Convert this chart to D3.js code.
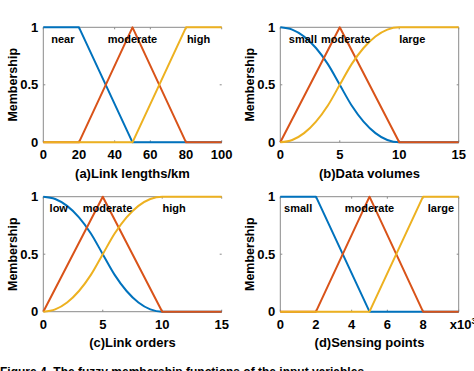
<!DOCTYPE html>
<html>
<head>
<meta charset="utf-8">
<script src="https://cdn.jsdelivr.net/npm/d3@7"></script>
<style>
  body { margin: 0; background: #fff; }
  svg { display: block; }
  text { font-family: "Liberation Sans", Arial, sans-serif; font-weight: bold; fill: #000; }
</style>
</head>
<body>
<svg id="chart" width="474" height="371"></svg>
<script>
// membership curves
// (a) link lengths, km
var aNearX = [0, 20, 50, 100], aNearY = [1, 1, 0, 0];
var aModX = [0, 20, 50, 80, 100], aModY = [0, 0, 1, 0, 0];
var aHighX = [0, 50, 80, 100], aHighY = [0, 0, 1, 1];

// (b) data volumes, (c) link orders - same shapes
var sX = [0, 1, 2, 3, 4, 5, 6, 7, 8, 9, 10, 11, 12, 13, 14, 15];
var sLowY = [1, 0.98, 0.92, 0.82, 0.68, 0.5, 0.32, 0.18, 0.08, 0.02, 0, 0, 0, 0, 0, 0];
var sHighY = [0, 0.02, 0.08, 0.18, 0.32, 0.5, 0.68, 0.82, 0.92, 0.98, 1, 1, 1, 1, 1, 1];
var sModX = [0, 5, 10, 15], sModY = [0, 1, 0, 0];

// (d) sensing points, x10^3
var dSmallX = [0, 2, 5, 10], dSmallY = [1, 1, 0, 0];
var dModX = [0, 2, 5, 8, 10], dModY = [0, 0, 1, 0, 0];
var dLargeX = [0, 5, 8, 10], dLargeY = [0, 0, 1, 1];

var yTicks = [0, 0.5, 1];
var yTickLabels = ["0", "0.5", "1"];

var colors = ["#0072BD", "#D95319", "#EDB120"];

var panels = [
    {col: 0, row: 0, xmax: 100, ticks: [0, 20, 40, 60, 80, 100], tickLabels: ["0", "20", "40", "60", "80", "100"],
        xlabel: "(a)Link lengths/km", names: ["near", "moderate", "high"], namePos: [11, 50, 87],
        curves: [[aNearX, aNearY], [aModX, aModY], [aHighX, aHighY]], smooth: false, rightLine: false},
    {col: 1, row: 0, xmax: 15, ticks: [0, 5, 10, 15], tickLabels: ["0", "5", "10", "15"],
        xlabel: "(b)Data volumes", names: ["small", "moderate", "large"], namePos: [1.9, 5.5, 11.1],
        curves: [[sX, sLowY], [sModX, sModY], [sX, sHighY]], smooth: true, rightLine: true},
    {col: 0, row: 1, xmax: 15, ticks: [0, 5, 10, 15], tickLabels: ["0", "5", "10", "15"],
        xlabel: "(c)Link orders", names: ["low", "moderate", "high"], namePos: [1.3, 5.4, 11.0],
        curves: [[sX, sLowY], [sModX, sModY], [sX, sHighY]], smooth: true, rightLine: false},
    {col: 1, row: 1, xmax: 10, ticks: [0, 2, 4, 6, 8, 10], tickLabels: ["0", "2", "4", "6", "8", ""],
        xlabel: "(d)Sensing points", names: ["small", "moderate", "large"], namePos: [1.0, 5.0, 9.0],
        curves: [[dSmallX, dSmallY], [dModX, dModY], [dLargeX, dLargeY]], smooth: false, rightLine: true}
];

var svg = d3.select("#chart");
var plotW = 178.4, plotH = 115;
var left0 = 43.3, colStep = 237;
var top0 = 27.3, rowStep = 169.4;
var boxColor = "#8a8a8a";

panels.forEach(function (p) {
    var ox = left0 + p.col * colStep;
    var oy = top0 + p.row * rowStep;
    var g = svg.append("g").attr("transform", "translate(" + ox + "," + oy + ")");

    var x = d3.scaleLinear().domain([0, p.xmax]).range([0, plotW]);
    var y = d3.scaleLinear().domain([0, 1]).range([plotH, 0]);

    // box lines
    g.append("line").attr("x1", 0).attr("x2", plotW).attr("y1", 0).attr("y2", 0)
            .attr("stroke", boxColor).attr("stroke-width", 1);
    g.append("line").attr("x1", 0).attr("x2", 0).attr("y1", 0).attr("y2", plotH)
            .attr("stroke", boxColor).attr("stroke-width", 1);
    g.append("line").attr("x1", 0).attr("x2", plotW).attr("y1", plotH).attr("y2", plotH)
            .attr("stroke", boxColor).attr("stroke-width", 1);
    if (p.rightLine) {
        g.append("line").attr("x1", plotW).attr("x2", plotW).attr("y1", 0).attr("y2", plotH)
                .attr("stroke", boxColor).attr("stroke-width", 1);
    }

    // inward ticks, top and bottom
    p.ticks.forEach(function (t) {
        g.append("line").attr("x1", x(t)).attr("x2", x(t)).attr("y1", 0).attr("y2", 2)
                .attr("stroke", boxColor);
        g.append("line").attr("x1", x(t)).attr("x2", x(t)).attr("y1", plotH).attr("y2", plotH - 2)
                .attr("stroke", boxColor);
    });
    yTicks.forEach(function (t) {
        g.append("line").attr("x1", 0).attr("x2", 2).attr("y1", y(t)).attr("y2", y(t))
                .attr("stroke", boxColor);
        g.append("line").attr("x1", plotW).attr("x2", plotW - 2).attr("y1", y(t)).attr("y2", y(t))
                .attr("stroke", boxColor);
    });

    // tick labels
    g.selectAll(".xt").data(p.ticks).enter().append("text")
            .attr("x", function (d) { return x(d); })
            .attr("y", plotH + 17)
            .attr("text-anchor", "middle")
            .style("font-size", "13px")
            .text(function (d, i) { return p.tickLabels[i]; });
    g.selectAll(".yt").data(yTicks).enter().append("text")
            .attr("x", -5)
            .attr("y", function (d) { return y(d) + 4.5; })
            .attr("text-anchor", "end")
            .style("font-size", "13px")
            .text(function (d, i) { return yTickLabels[i]; });

    if (p.xmax === 10) {
        var ex = g.append("text").attr("x", plotW - 9).attr("y", plotH + 17)
                .style("font-size", "13px");
        ex.append("tspan").text("x10");
        ex.append("tspan").attr("dy", -5).style("font-size", "9px").text("3");
    }

    // axis labels
    g.append("text")
            .attr("x", plotW / 2).attr("y", plotH + 35.5)
            .attr("text-anchor", "middle")
            .style("font-size", "13px")
            .text(p.xlabel);
    g.append("text")
            .attr("transform", "translate(" + (-26) + "," + (plotH / 2) + ") rotate(-90)")
            .attr("text-anchor", "middle")
            .style("font-size", "12.5px")
            .text("Membership");

    // curves
    var line = d3.line()
            .x(function (d) { return x(d[0]); })
            .y(function (d) { return y(d[1]); })
            .curve(p.smooth ? d3.curveMonotoneX : d3.curveLinear);
    p.curves.forEach(function (c, i) {
        var pts = c[0].map(function (v, j) { return [v, c[1][j]]; });
        var path = g.append("path")
                .datum(pts)
                .attr("fill", "none")
                .attr("stroke", colors[i])
                .attr("stroke-width", 2)
                .attr("stroke-linejoin", "round")
                .attr("d", p.smooth && i === 1 ? line.curve(d3.curveLinear) : line);
        line.curve(p.smooth ? d3.curveMonotoneX : d3.curveLinear);
    });

    // set names
    g.selectAll(".nm").data(p.names).enter().append("text")
            .attr("x", function (d, i) { return x(p.namePos[i]); })
            .attr("y", 15.5)
            .attr("text-anchor", "middle")
            .style("font-size", "11px")
            .text(function (d) { return d; });
});

// caption, cut off at the bottom edge
svg.append("text")
        .attr("x", 0).attr("y", 375.5)
        .style("font-size", "12px")
        .text("Figure 4. The fuzzy membership functions of the input variables");
</script>
</body>
</html>
